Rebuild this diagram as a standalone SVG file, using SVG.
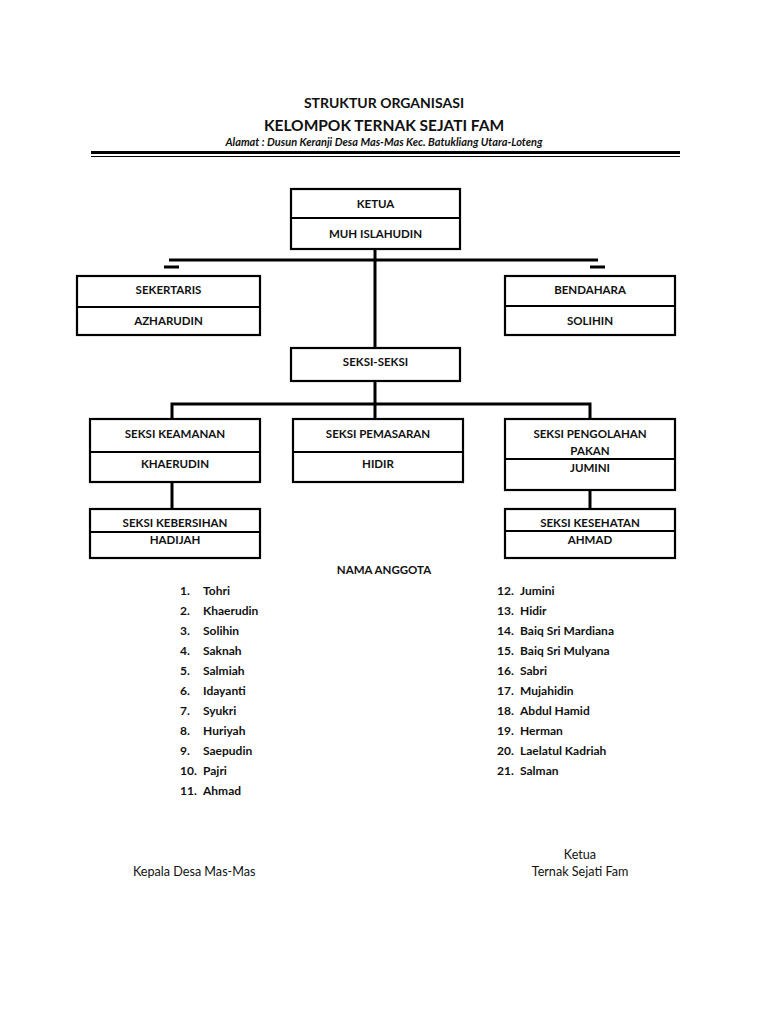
<svg xmlns="http://www.w3.org/2000/svg" width="768" height="1024" viewBox="0 0 768 1024">
<style>
text{font-family:Lato,"Open Sans","Liberation Sans",sans-serif;fill:#111;}
.t1{font-size:14px;font-weight:bold;text-anchor:middle;}
.t2{font-size:15.5px;font-weight:bold;text-anchor:middle;}
.addr{font-size:11px;font-weight:bold;font-style:italic;text-anchor:middle;}
.bx{fill:#fff;stroke:#000;stroke-width:2.2;}
.dv{stroke:#000;stroke-width:2;}
.lb{font-size:11.5px;font-weight:bold;text-anchor:middle;}
.ln{stroke:#000;stroke-width:3;fill:none;}
.li{font-size:12px;font-weight:bold;}
.ft{font-size:12.6px;}
</style>
<rect width="768" height="1024" fill="#fff"/>
<g id="header">
<text class="t1" x="384" y="108">STRUKTUR ORGANISASI</text>
<text class="t2" x="384" y="131">KELOMPOK TERNAK SEJATI FAM</text>
<text class="addr" x="384" y="146">Alamat : Dusun Keranji Desa Mas-Mas Kec. Batukliang Utara-Loteng</text>
<line x1="91" y1="152.5" x2="680" y2="152.5" stroke="#000" stroke-width="3"/>
<line x1="91" y1="156.5" x2="680" y2="156.5" stroke="#000" stroke-width="1"/>
</g>
<g id="connectors">
<line class="ln" x1="375" y1="249" x2="375" y2="348"/>
<line class="ln" x1="169" y1="260" x2="598" y2="260"/>
<line class="ln" x1="164" y1="267" x2="179" y2="267"/>
<line class="ln" x1="590" y1="267" x2="605" y2="267"/>
<line class="ln" x1="375" y1="381" x2="375" y2="404"/>
<polyline class="ln" points="172,419 172,404 590,404 590,419"/>
<line class="ln" x1="375" y1="404" x2="375" y2="419"/>
<line class="ln" x1="172" y1="482" x2="172" y2="509"/>
<line class="ln" x1="590" y1="490" x2="590" y2="509"/>
</g>
<g id="ketua">
<rect class="bx" x="291" y="189" width="169" height="60"/>
<line class="dv" x1="291" y1="218" x2="460" y2="218"/>
<text class="lb" x="375.5" y="208">KETUA</text>
<text class="lb" x="375.5" y="238">MUH ISLAHUDIN</text>
</g>
<g id="sekertaris">
<rect class="bx" x="77" y="276" width="183" height="59"/>
<line class="dv" x1="77" y1="307" x2="260" y2="307"/>
<text class="lb" x="168.5" y="294">SEKERTARIS</text>
<text class="lb" x="168.5" y="325">AZHARUDIN</text>
</g>
<g id="bendahara">
<rect class="bx" x="505" y="276" width="170" height="59"/>
<line class="dv" x1="505" y1="306" x2="675" y2="306"/>
<text class="lb" x="590" y="294">BENDAHARA</text>
<text class="lb" x="590" y="325">SOLIHIN</text>
</g>
<g id="seksi-seksi">
<rect class="bx" x="291" y="348" width="169" height="33"/>
<text class="lb" x="375.5" y="366">SEKSI-SEKSI</text>
</g>
<g id="seksi-keamanan">
<rect class="bx" x="90" y="419" width="170" height="63"/>
<line class="dv" x1="90" y1="452" x2="260" y2="452"/>
<text class="lb" x="175" y="438">SEKSI KEAMANAN</text>
<text class="lb" x="175" y="468">KHAERUDIN</text>
</g>
<g id="seksi-pemasaran">
<rect class="bx" x="293" y="419" width="170" height="63"/>
<line class="dv" x1="293" y1="452" x2="463" y2="452"/>
<text class="lb" x="378" y="438">SEKSI PEMASARAN</text>
<text class="lb" x="378" y="468">HIDIR</text>
</g>
<g id="seksi-pengolahan-pakan">
<rect class="bx" x="505" y="419" width="170" height="71"/>
<line class="dv" x1="505" y1="459" x2="675" y2="459"/>
<text class="lb" x="590" y="438">SEKSI PENGOLAHAN</text>
<text class="lb" x="590" y="455">PAKAN</text>
<text class="lb" x="590" y="472">JUMINI</text>
</g>
<g id="seksi-kebersihan">
<rect class="bx" x="90" y="509" width="170" height="49"/>
<line class="dv" x1="90" y1="532" x2="260" y2="532"/>
<text class="lb" x="175" y="527">SEKSI KEBERSIHAN</text>
<text class="lb" x="175" y="544">HADIJAH</text>
</g>
<g id="seksi-kesehatan">
<rect class="bx" x="505" y="509" width="170" height="49"/>
<line class="dv" x1="505" y1="531" x2="675" y2="531"/>
<text class="lb" x="590" y="527">SEKSI KESEHATAN</text>
<text class="lb" x="590" y="544">AHMAD</text>
</g>
<g id="anggota">
<text class="lb" x="384" y="574">NAMA ANGGOTA</text>
<g class="li">
<text class="li" x="180" y="595">1.</text><text class="li" x="203" y="595">Tohri</text>
<text class="li" x="180" y="615">2.</text><text class="li" x="203" y="615">Khaerudin</text>
<text class="li" x="180" y="635">3.</text><text class="li" x="203" y="635">Solihin</text>
<text class="li" x="180" y="655">4.</text><text class="li" x="203" y="655">Saknah</text>
<text class="li" x="180" y="675">5.</text><text class="li" x="203" y="675">Salmiah</text>
<text class="li" x="180" y="695">6.</text><text class="li" x="203" y="695">Idayanti</text>
<text class="li" x="180" y="715">7.</text><text class="li" x="203" y="715">Syukri</text>
<text class="li" x="180" y="735">8.</text><text class="li" x="203" y="735">Huriyah</text>
<text class="li" x="180" y="755">9.</text><text class="li" x="203" y="755">Saepudin</text>
<text class="li" x="180" y="775">10.</text><text class="li" x="203" y="775">Pajri</text>
<text class="li" x="180" y="795">11.</text><text class="li" x="203" y="795">Ahmad</text>
<text class="li" x="497" y="595">12.</text><text class="li" x="520" y="595">Jumini</text>
<text class="li" x="497" y="615">13.</text><text class="li" x="520" y="615">Hidir</text>
<text class="li" x="497" y="635">14.</text><text class="li" x="520" y="635">Baiq Sri Mardiana</text>
<text class="li" x="497" y="655">15.</text><text class="li" x="520" y="655">Baiq Sri Mulyana</text>
<text class="li" x="497" y="675">16.</text><text class="li" x="520" y="675">Sabri</text>
<text class="li" x="497" y="695">17.</text><text class="li" x="520" y="695">Mujahidin</text>
<text class="li" x="497" y="715">18.</text><text class="li" x="520" y="715">Abdul Hamid</text>
<text class="li" x="497" y="735">19.</text><text class="li" x="520" y="735">Herman</text>
<text class="li" x="497" y="755">20.</text><text class="li" x="520" y="755">Laelatul Kadriah</text>
<text class="li" x="497" y="775">21.</text><text class="li" x="520" y="775">Salman</text>
</g>
</g>
<g id="footer">
<text class="ft" x="133" y="876">Kepala Desa Mas-Mas</text>
<text class="ft" x="580" y="859" text-anchor="middle">Ketua</text>
<text class="ft" x="580" y="876" text-anchor="middle">Ternak Sejati Fam</text>
</g>
</svg>
